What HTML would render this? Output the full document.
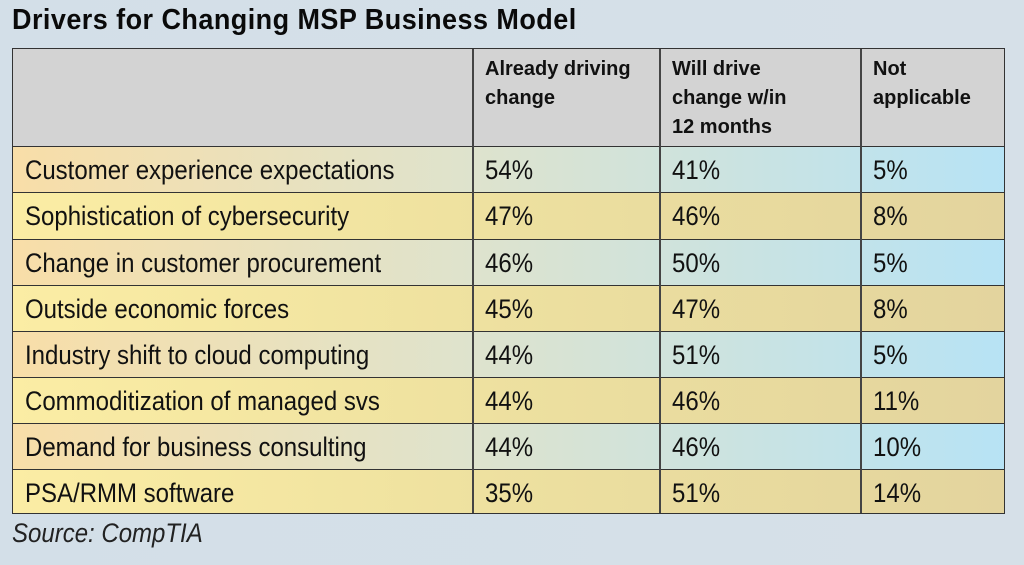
<!DOCTYPE html>
<html><head><meta charset="utf-8"><style>
body{margin:0;width:1024px;height:565px;background:linear-gradient(90deg,#d3dfe8,#d6e0e8);font-family:"Liberation Sans",sans-serif;position:relative;overflow:hidden;color:#111}
.t{position:absolute;left:12px;top:4px;font-weight:bold;font-size:27px;letter-spacing:0.45px;color:#0a0a0a;transform-origin:left top;transform:scaleY(1.05)}
.tbl{position:absolute;left:12px;top:48px;width:993px;height:466px;border:1.5px solid #333;box-sizing:border-box}
.row{position:absolute;left:0;width:100%;border-top:1.5px solid #333;box-sizing:border-box}
.h{top:0;height:97px;background:#d3d3d3;border-top:none}
.o{background:linear-gradient(90deg,#f8dea8,#dfe3cc 45%,#b7e3f5)}
.e{background:linear-gradient(90deg,#fbeda4,#ecdf9f 55%,#e3d49e)}
.c{position:absolute;top:2px;font-size:24px;line-height:44px;transform-origin:left center;transform:scaleY(1.12)}
.hc{position:absolute;top:6px;font-weight:bold;font-size:20px;line-height:29px}
.vl{position:absolute;top:0;bottom:0;width:1.5px;background:#444}
.s{position:absolute;left:12px;top:519px;font-style:italic;font-size:24px;color:#222;transform-origin:left top;transform:scaleY(1.1)}
</style></head><body>
<div class="t">Drivers for Changing MSP Business Model</div>
<div class="tbl">
<div class="row h"><div class="hc" style="left:472px">Already driving<br>change</div><div class="hc" style="left:659px">Will drive<br>change w/in<br>12 months</div><div class="hc" style="left:860px">Not<br>applicable</div></div>
<div class="row o" style="top:97px;height:46px"><div class="c" style="left:12px">Customer experience expectations</div><div class="c" style="left:472px">54%</div><div class="c" style="left:659px">41%</div><div class="c" style="left:860px">5%</div></div>
<div class="row e" style="top:143px;height:47px"><div class="c" style="left:12px">Sophistication of cybersecurity</div><div class="c" style="left:472px">47%</div><div class="c" style="left:659px">46%</div><div class="c" style="left:860px">8%</div></div>
<div class="row o" style="top:190px;height:46px"><div class="c" style="left:12px">Change in customer procurement</div><div class="c" style="left:472px">46%</div><div class="c" style="left:659px">50%</div><div class="c" style="left:860px">5%</div></div>
<div class="row e" style="top:236px;height:46px"><div class="c" style="left:12px">Outside economic forces</div><div class="c" style="left:472px">45%</div><div class="c" style="left:659px">47%</div><div class="c" style="left:860px">8%</div></div>
<div class="row o" style="top:282px;height:46px"><div class="c" style="left:12px">Industry shift to cloud computing</div><div class="c" style="left:472px">44%</div><div class="c" style="left:659px">51%</div><div class="c" style="left:860px">5%</div></div>
<div class="row e" style="top:328px;height:46px"><div class="c" style="left:12px">Commoditization of managed svs</div><div class="c" style="left:472px">44%</div><div class="c" style="left:659px">46%</div><div class="c" style="left:860px">11%</div></div>
<div class="row o" style="top:374px;height:46px"><div class="c" style="left:12px">Demand for business consulting</div><div class="c" style="left:472px">44%</div><div class="c" style="left:659px">46%</div><div class="c" style="left:860px">10%</div></div>
<div class="row e" style="top:420px;height:44px"><div class="c" style="left:12px">PSA/RMM software</div><div class="c" style="left:472px">35%</div><div class="c" style="left:659px">51%</div><div class="c" style="left:860px">14%</div></div>
<div class="vl" style="left:459px"></div><div class="vl" style="left:646px"></div><div class="vl" style="left:847px"></div>
</div>
<div class="s">Source: CompTIA</div>
</body></html>
